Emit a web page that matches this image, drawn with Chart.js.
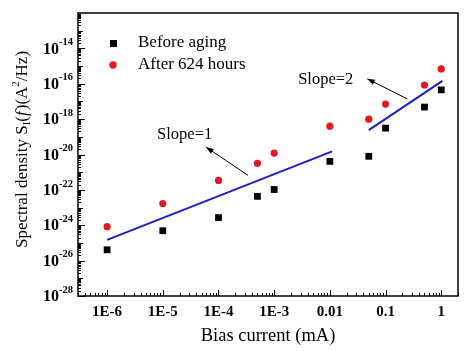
<!DOCTYPE html>
<html>
<head>
<meta charset="utf-8">
<script src="https://cdn.jsdelivr.net/npm/chart.js@4.4.1/dist/chart.umd.min.js"></script>
<style>
  html, body { margin: 0; padding: 0; background: #fff; }
  #wrap { width: 474px; height: 351px; position: relative; }
</style>
</head>
<body>
<div id="wrap"><canvas id="chart"></canvas></div>
<script>
(function () {
  'use strict';

  // Bias current (mA)
  var CURRENTS = [1e-6, 1e-5, 1e-4, 5e-4, 1e-3, 0.01, 0.05, 0.1, 0.5, 1];
  // Spectral density S_I(f) (A^2/Hz)
  var BEFORE_AGING = [4.1e-26, 4.9e-25, 2.7e-24, 4.3e-23, 1.05e-22, 4.1e-21, 7.9e-21, 3.1e-19, 4.8e-18, 4.5e-17];
  var AFTER_624H = [8.3e-25, 1.7e-23, 3.4e-22, 3.2e-21, 1.2e-20, 4.0e-19, 1.0e-18, 7.1e-18, 8.5e-17, 6.9e-16];
  // fitted lines (endpoints)
  var FIT1_X = [1e-6, 0.011];
  var FIT1_Y = [1.5e-25, 1.5e-20];
  var FIT2_X = [0.05, 1.05];
  var FIT2_Y = [2.4e-19, 1.45e-16];

  var X_TICKS = [1e-6, 1e-5, 1e-4, 1e-3, 0.01, 0.1, 1];
  var X_TICK_LABELS = ['1E-6', '1E-5', '1E-4', '1E-3', '0.01', '0.1', '1'];
  var Y_TICK_EXP = [-28, -26, -24, -22, -20, -18, -16, -14];

  var NOTES = [
    { text: 'Slope=1', tx: 7.9e-6, ty: 1.26e-19, from: [3.4e-4, 6.6e-22], to: [6.0e-5, 2.6e-20] },
    { text: 'Slope=2', tx: 2.7e-3, ty: 1.7e-16, from: [0.245, 1.4e-17], to: [0.047, 1.9e-16] }
  ];

  var SERIF = "'Liberation Serif', 'DejaVu Serif', serif";
  var RED = '#e3171d';
  var BLUE = '#1c1ccc';

  function pts(xs, ys) {
    return xs.map(function (x, i) { return { x: x, y: ys[i] }; });
  }

  function arrow(ctx, x1, y1, x2, y2) {
    var a = Math.atan2(y2 - y1, x2 - x1), h = 8;
    ctx.beginPath(); ctx.moveTo(x1, y1); ctx.lineTo(x2, y2); ctx.stroke();
    ctx.beginPath();
    ctx.moveTo(x2, y2);
    ctx.lineTo(x2 - h * Math.cos(a - 0.35), y2 - h * Math.sin(a - 0.35));
    ctx.lineTo(x2 - h * Math.cos(a + 0.35), y2 - h * Math.sin(a + 0.35));
    ctx.closePath(); ctx.fill();
  }

  var decor = {
    id: 'decor',
    afterDraw: function (chart) {
      var ctx = chart.ctx, ca = chart.chartArea;
      var xs = chart.scales.x, ys = chart.scales.y;
      ctx.save();
      ctx.strokeStyle = '#000'; ctx.fillStyle = '#000';

      // frame
      ctx.lineWidth = 1.5;
      ctx.strokeRect(ca.left, ca.top, ca.right - ca.left, ca.bottom - ca.top);

      // x ticks (inward)
      ctx.lineWidth = 1;
      ctx.beginPath();
      for (var e = -7; e <= 0; e++) {
        for (var m = 1; m <= 9; m++) {
          var v = m * Math.pow(10, e);
          if (v < xs.min || v > xs.max) continue;
          var px = Math.round(xs.getPixelForValue(v)) + 0.5;
          var len = m === 1 ? 6 : 3;
          ctx.moveTo(px, ca.bottom); ctx.lineTo(px, ca.bottom - len);
        }
      }
      // y ticks (inward)
      for (var ey = -28; ey < -12; ey++) {
        for (var my = 1; my <= 9; my++) {
          var vy = my * Math.pow(10, ey);
          var py = Math.round(ys.getPixelForValue(vy)) + 0.5;
          var ly = my === 1 ? (ey % 2 === 0 ? 7 : 5) : 3;
          ctx.moveTo(ca.left, py); ctx.lineTo(ca.left + ly, py);
        }
      }
      ctx.stroke();

      // x tick labels
      ctx.font = 'bold 15px ' + SERIF;
      ctx.textAlign = 'center'; ctx.textBaseline = 'middle';
      X_TICKS.forEach(function (t, i) {
        ctx.fillText(X_TICK_LABELS[i], xs.getPixelForValue(t), 312);
      });

      // y tick labels 10^n
      Y_TICK_EXP.forEach(function (n) {
        var py = ys.getPixelForValue(Math.pow(10, n));
        var sup = String(n);
        ctx.font = 'bold 10.5px ' + SERIF;
        var sw = ctx.measureText(sup).width;
        ctx.textAlign = 'left'; ctx.textBaseline = 'middle';
        var right = 73;
        ctx.fillText(sup, right - sw, py - 6);
        ctx.font = 'bold 16px ' + SERIF;
        ctx.textAlign = 'right';
        ctx.fillText('10', right - sw, py + 1);
      });

      // x title
      ctx.font = '18.5px ' + SERIF;
      ctx.textAlign = 'center'; ctx.textBaseline = 'middle';
      ctx.fillText('Bias current (mA)', 268, 336);

      // y title (rotated, rich text)
      var parts = [
        { t: 'Spectral density S', f: '17px ' + SERIF, dy: 0 },
        { t: 'I', f: '11px ' + SERIF, dy: 4 },
        { t: '(', f: '17px ' + SERIF, dy: 0 },
        { t: 'f', f: 'italic 17px ' + SERIF, dy: 0 },
        { t: ')(A', f: '17px ' + SERIF, dy: 0 },
        { t: '2', f: '11px ' + SERIF, dy: -7 },
        { t: '/Hz)', f: '17px ' + SERIF, dy: 0 }
      ];
      var total = 0;
      parts.forEach(function (p) { ctx.font = p.f; p.w = ctx.measureText(p.t).width; total += p.w; });
      ctx.translate(23, 150);
      ctx.rotate(-Math.PI / 2);
      ctx.textAlign = 'left'; ctx.textBaseline = 'middle';
      var cx = -total / 2;
      parts.forEach(function (p) { ctx.font = p.f; ctx.fillText(p.t, cx, p.dy); cx += p.w + (p.t === 'f' ? 1 : 0); });
      ctx.setTransform(1, 0, 0, 1, 0, 0);

      // legend
      ctx.fillStyle = '#000';
      ctx.fillRect(110, 40, 7, 7);
      ctx.fillStyle = RED;
      ctx.beginPath(); ctx.arc(113, 65, 3.7, 0, Math.PI * 2); ctx.fill();
      ctx.fillStyle = '#000';
      ctx.font = '17px ' + SERIF;
      ctx.textAlign = 'left'; ctx.textBaseline = 'middle';
      ctx.fillText('Before aging', 138, 43);
      ctx.fillText('After 624 hours', 138, 65);

      // slope notes with arrows
      ctx.lineWidth = 1;
      NOTES.forEach(function (n) {
        ctx.font = '16.5px ' + SERIF;
        ctx.textAlign = 'left'; ctx.textBaseline = 'middle';
        ctx.fillText(n.text, xs.getPixelForValue(n.tx), ys.getPixelForValue(n.ty));
        arrow(ctx, xs.getPixelForValue(n.from[0]), ys.getPixelForValue(n.from[1]),
          xs.getPixelForValue(n.to[0]), ys.getPixelForValue(n.to[1]));
      });
      ctx.restore();
    }
  };

  function init() {
    new Chart(document.getElementById('chart'), {
      type: 'scatter',
      data: {
        datasets: [
          { label: 'Before aging', data: pts(CURRENTS, BEFORE_AGING), pointStyle: 'rect', pointRadius: 4.8, backgroundColor: '#000', borderColor: '#000', borderWidth: 0 },
          { label: 'After 624 hours', data: pts(CURRENTS, AFTER_624H), pointStyle: 'circle', pointRadius: 3.6, backgroundColor: RED, borderColor: RED, borderWidth: 0 },
          { label: 'fit1', data: pts(FIT1_X, FIT1_Y), showLine: true, pointRadius: 0, borderColor: BLUE, borderWidth: 2 },
          { label: 'fit2', data: pts(FIT2_X, FIT2_Y), showLine: true, pointRadius: 0, borderColor: BLUE, borderWidth: 2 }
        ]
      },
      options: {
        responsive: true, maintainAspectRatio: false, animation: false,
        layout: { padding: { left: 78, top: 13, right: 16, bottom: 55 } },
        plugins: { legend: { display: false }, tooltip: { enabled: false } },
        scales: {
          x: { type: 'logarithmic', min: 3e-7, max: 2, display: false },
          y: { type: 'logarithmic', min: 1e-28, max: 1e-12, display: false }
        }
      },
      plugins: [decor]
    });
  }

  if (document.readyState === 'loading') { document.addEventListener('DOMContentLoaded', init); }
  else { init(); }
})();
</script>
</body>
</html>
